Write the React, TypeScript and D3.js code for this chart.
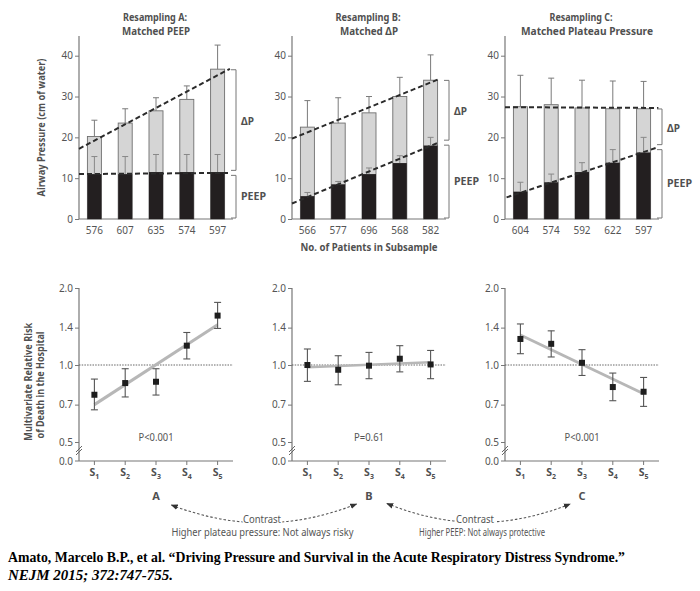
import React, { useRef, useEffect } from 'react';
import * as d3 from 'd3';

// ---- Top row: airway pressure (cm of water), 5 subsamples per resampling ----
const patientsA = ['576', '607', '635', '574', '597'];
const patientsB = ['566', '577', '696', '568', '582'];
const patientsC = ['604', '574', '592', '622', '597'];

const peepA = [11, 11, 11.5, 11.5, 11.5];
const peepErrA = [15.3, 15.3, 15.8, 15.8, 15.8];
const plateauA = [20.2, 23.5, 26.5, 29.3, 36.7];
const plateauErrA = [24.2, 27, 29.7, 32.6, 42.6];

const peepB = [5.6, 8.5, 11, 13.7, 18];
const peepErrB = [6.5, 9.2, 12.5, 15.5, 20];
const plateauB = [22.5, 23.5, 26, 30, 34];
const plateauErrB = [29, 29.7, 30, 34.7, 40.2];

const peepC = [6.7, 9, 11.5, 13.8, 16.3];
const peepErrC = [9, 11, 13.8, 17, 20];
const plateauC = [27.5, 28, 27.2, 27, 27];
const plateauErrC = [35.2, 34.5, 34, 33.8, 33.7];

// dashed trends: [subsample index, value] at both ends
const plateauTrendA = [[-0.5, 17.2], [4.4, 36.8]];
const peepTrendA = [[-0.5, 11.0], [4.4, 11.3]];
const plateauTrendB = [[-0.5, 19.7], [4.25, 34.2]];
const peepTrendB = [[-0.5, 3.8], [4.25, 18.7]];
const plateauTrendC = [[-0.5, 27.4], [4.48, 27.2]];
const peepTrendC = [[-0.45, 5.3], [4.48, 17.6]];

const pressureTicks = [0, 10, 20, 30, 40];

// ---- Bottom row: multivariate relative risk of death ----
const subsamples = ['1', '2', '3', '4', '5'];
const riskA = [0.765, 0.85, 0.86, 1.19, 1.56];
const riskLoA = [0.668, 0.75, 0.763, 1.056, 1.39];
const riskHiA = [0.881, 0.967, 0.967, 1.34, 1.757];
const riskTrendA = [[0, 0.7], [4, 1.437]];

const riskB = [1.0, 0.958, 0.994, 1.058, 1.005];
const riskLoB = [0.863, 0.837, 0.884, 0.94, 0.884];
const riskHiB = [1.155, 1.087, 1.12, 1.19, 1.14];
const riskTrendB = [[0, 0.979], [4, 1.024]];

const riskC = [1.264, 1.21, 1.02, 0.82, 0.786];
const riskLoC = [1.107, 1.075, 0.91, 0.725, 0.689];
const riskHiC = [1.447, 1.36, 1.148, 0.93, 0.894];
const riskTrendC = [[0, 1.31], [4, 0.772]];

const riskTicks = [0.5, 0.7, 1.0, 1.4, 2.0];
const pValues = ['P<0.001', 'P=0.61', 'P<0.001'];

const SANS = "'Noto Sans', 'Open Sans', sans-serif";
const SERIF = "'Liberation Serif', 'Times New Roman', serif";
const INK = '#4a4a4a';

const App: React.FC = () => {
  const svgRef = useRef<SVGSVGElement>(null);

  useEffect(() => {
    if (!svgRef.current) return;
    const svg = d3.select(svgRef.current);
    svg.selectAll('*').remove();

    const defs = svg.append('defs');
    defs.append('marker')
      .attr('id', 'arrow').attr('viewBox', '0 0 8 8')
      .attr('refX', 7).attr('refY', 4)
      .attr('markerWidth', 7).attr('markerHeight', 7)
      .attr('markerUnits', 'userSpaceOnUse')
      .attr('orient', 'auto-start-reverse')
      .append('path').attr('d', 'M0,0.8 L8,4 L0,7.2 z').attr('fill', '#333');

    const txt = (g: any, x: number, y: number, s: string, size: number, opts: any = {}) => {
      const t = g.append('text')
        .attr('x', x).attr('y', y)
        .attr('font-family', opts.family || SANS)
        .attr('font-size', size)
        .attr('font-weight', opts.weight || 'normal')
        .attr('font-style', opts.style || 'normal')
        .attr('fill', opts.fill || INK)
        .attr('text-anchor', opts.anchor || 'middle')
        .text(s);
      if (opts.len) t.attr('textLength', opts.len).attr('lengthAdjust', 'spacingAndGlyphs');
      if (opts.rotate) t.attr('transform', `rotate(-90,${x},${y})`);
      if (opts.halo) t.attr('stroke', '#fff').attr('stroke-width', 3).attr('paint-order', 'stroke');
      return t;
    };

    // ---------- top pressure panels ----------
    const yP = d3.scaleLinear().domain([0, 40]).range([219, 55.7]);
    const pressurePanels = [
      { ax: 79, labels: patientsA, peep: peepA, peepErr: peepErrA, plat: plateauA, platErr: plateauErrA,
        platTrend: plateauTrendA, peepTrend: peepTrendA, t1: 'Resampling A:', t2: 'Matched PEEP', l1: 64, l2: 68, t2dx: 0 },
      { ax: 292, labels: patientsB, peep: peepB, peepErr: peepErrB, plat: plateauB, platErr: plateauErrB,
        platTrend: plateauTrendB, peepTrend: peepTrendB, t1: 'Resampling B:', t2: 'Matched \u0394P', l1: 65, l2: 58, t2dx: 0 },
      { ax: 505, labels: patientsC, peep: peepC, peepErr: peepErrC, plat: plateauC, platErr: plateauErrC,
        platTrend: plateauTrendC, peepTrend: peepTrendC, t1: 'Resampling C:', t2: 'Matched Plateau Pressure', l1: 63, l2: 132, t2dx: 5 },
    ];

    pressurePanels.forEach((p) => {
      const g = svg.append('g');
      const x = d3.scaleBand<number>().domain(d3.range(p.labels.length)).range([p.ax, p.ax + 154]);
      const cx = (i: number) => (x(i) || 0) + x.bandwidth() / 2;
      const xi = d3.scaleLinear().domain([0, 4]).range([cx(0), cx(4)]);
      const y0 = yP(0);

      // titles
      txt(g, p.ax + 76, 20.5, p.t1, 10, { weight: 'bold', len: p.l1, fill: '#505050' });
      txt(g, p.ax + 77 + p.t2dx, 35, p.t2, 10, { weight: 'bold', len: p.l2, fill: '#505050' });

      // y axis
      const ya = g.append('g').attr('transform', `translate(${p.ax},0)`)
        .call(d3.axisLeft(yP).tickValues(pressureTicks).tickSize(4).tickSizeOuter(0).tickPadding(2));
      ya.select('.domain').remove();
      ya.selectAll('line').attr('stroke', '#777');
      ya.selectAll('text').attr('font-family', SANS).attr('font-size', 10).attr('fill', '#555');
      g.append('line').attr('x1', p.ax).attr('x2', p.ax).attr('y1', y0).attr('y2', 36)
        .attr('stroke', '#777').attr('stroke-width', 1.2);
      // x axis
      g.append('line').attr('x1', p.ax).attr('x2', p.ax + 154).attr('y1', y0).attr('y2', y0)
        .attr('stroke', '#777').attr('stroke-width', 1.2);
      p.labels.forEach((l, i) => txt(g, cx(i), 233.5, l, 10, { fill: '#555' }));

      // bars
      g.selectAll('.plat').data(p.plat).enter().append('rect')
        .attr('x', (_, i) => cx(i) - 7).attr('width', 14)
        .attr('y', (d) => yP(d)).attr('height', (d) => y0 - yP(d))
        .attr('fill', '#d5d5d5').attr('stroke', '#6f6f6f').attr('stroke-width', 0.9);
      g.selectAll('.peep').data(p.peep).enter().append('rect')
        .attr('x', (_, i) => cx(i) - 7).attr('width', 14)
        .attr('y', (d) => yP(d)).attr('height', (d) => y0 - yP(d))
        .attr('fill', '#231f20');

      // error whiskers (upper only)
      const whisker = (from: number[], to: number[], color: string) => {
        from.forEach((v, i) => {
          g.append('line').attr('x1', cx(i)).attr('x2', cx(i)).attr('y1', yP(v)).attr('y2', yP(to[i]))
            .attr('stroke', color).attr('stroke-width', 1);
          g.append('line').attr('x1', cx(i) - 3).attr('x2', cx(i) + 3).attr('y1', yP(to[i])).attr('y2', yP(to[i]))
            .attr('stroke', color).attr('stroke-width', 1);
        });
      };
      whisker(p.plat, p.platErr, '#7a7a7a');
      whisker(p.peep, p.peepErr, '#888');

      // dashed trends
      [p.platTrend, p.peepTrend].forEach((t) => {
        g.append('line')
          .attr('x1', xi(t[0][0])).attr('y1', yP(t[0][1]))
          .attr('x2', xi(t[1][0])).attr('y2', yP(t[1][1]))
          .attr('stroke', '#2b2b2b').attr('stroke-width', 2).attr('stroke-dasharray', '5,3');
      });

      // brackets
      const bx = p.ax + 157;
      const topY = yP(p.platTrend[1][1]);
      const midY = yP(p.peepTrend[1][1]);
      const bracket = (a: number, b: number) => {
        g.append('path').attr('d', `M${bx - 5},${a} H${bx} V${b} H${bx - 5}`)
          .attr('fill', 'none').attr('stroke', '#777').attr('stroke-width', 1);
      };
      bracket(topY + 1, midY - 2.5);
      bracket(midY + 2.5, y0 - 1);
      txt(g, bx + 5, (topY + midY) / 2 + 4, '\u0394P', 10, { weight: 'bold', anchor: 'start', fill: '#505050' });
      txt(g, bx + 5, (midY + y0) / 2 + 4, 'PEEP', 10, { weight: 'bold', anchor: 'start', fill: '#505050', len: 25 });
    });

    txt(svg, 45, 127.5, 'Airway Pressure (cm of water)', 10, { weight: 'bold', rotate: true, len: 138, fill: '#505050' });
    txt(svg, 369, 251, 'No. of Patients in Subsample', 10, { weight: 'bold', len: 137, fill: '#505050' });

    // ---------- bottom risk panels ----------
    const yR = d3.scaleLog().domain([0.5, 2]).range([442, 288]);
    const zeroY = 461;
    const riskPanels = [
      { ax: 79, v: riskA, lo: riskLoA, hi: riskHiA, trend: riskTrendA, trendW: 3, letter: 'A' },
      { ax: 292, v: riskB, lo: riskLoB, hi: riskHiB, trend: riskTrendB, trendW: 2.5, letter: 'B' },
      { ax: 505, v: riskC, lo: riskLoC, hi: riskHiC, trend: riskTrendC, trendW: 3, letter: 'C' },
    ];

    riskPanels.forEach((p, pi) => {
      const g = svg.append('g');
      const x = d3.scaleBand<number>().domain(d3.range(subsamples.length)).range([p.ax, p.ax + 154]);
      const cx = (i: number) => (x(i) || 0) + x.bandwidth() / 2;
      const xi = d3.scaleLinear().domain([0, 4]).range([cx(0), cx(4)]);

      // y axis with break
      const ya = g.append('g').attr('transform', `translate(${p.ax},0)`)
        .call(d3.axisLeft(yR).tickValues(riskTicks).tickFormat(d3.format('.1f')).tickSize(4).tickSizeOuter(0).tickPadding(2));
      ya.select('.domain').remove();
      ya.selectAll('line').attr('stroke', '#777');
      ya.selectAll('text').attr('font-family', SANS).attr('font-size', 10).attr('fill', '#555');
      g.append('line').attr('x1', p.ax - 4).attr('x2', p.ax).attr('y1', zeroY).attr('y2', zeroY).attr('stroke', '#777');
      txt(g, p.ax - 6, zeroY + 3.5, '0.0', 10, { anchor: 'end', fill: '#555' });
      g.append('line').attr('x1', p.ax).attr('x2', p.ax).attr('y1', yR(2)).attr('y2', zeroY)
        .attr('stroke', '#777').attr('stroke-width', 1.2);
      [0, 3].forEach((o) => {
        g.append('line').attr('x1', p.ax - 3).attr('y1', 452 + o).attr('x2', p.ax + 3).attr('y2', 446 + o)
          .attr('stroke', '#666').attr('stroke-width', 1);
      });

      // x axis
      g.append('line').attr('x1', p.ax).attr('x2', p.ax + 154).attr('y1', zeroY).attr('y2', zeroY)
        .attr('stroke', '#777').attr('stroke-width', 1.2);
      subsamples.forEach((s, i) => {
        g.append('line').attr('x1', cx(i)).attr('x2', cx(i)).attr('y1', zeroY).attr('y2', zeroY + 4).attr('stroke', '#777');
        const t = txt(g, cx(i), 476, 'S', 10.5, { weight: 'bold', fill: '#505050' });
        t.append('tspan').attr('font-size', 7).attr('dy', 2.5).text(s);
      });

      // reference line at 1.0
      g.append('line').attr('x1', p.ax).attr('x2', p.ax + 154).attr('y1', yR(1)).attr('y2', yR(1))
        .attr('stroke', '#555').attr('stroke-width', 0.9).attr('stroke-dasharray', '1.5,1.2');

      // trend
      g.append('line')
        .attr('x1', xi(p.trend[0][0])).attr('y1', yR(p.trend[0][1]))
        .attr('x2', xi(p.trend[1][0])).attr('y2', yR(p.trend[1][1]))
        .attr('stroke', '#b7b7b7').attr('stroke-width', p.trendW);

      // error bars + points
      p.v.forEach((v, i) => {
        const c = cx(i);
        g.append('line').attr('x1', c).attr('x2', c).attr('y1', yR(p.lo[i])).attr('y2', yR(p.hi[i]))
          .attr('stroke', '#555').attr('stroke-width', 1.1);
        [p.lo[i], p.hi[i]].forEach((e) => {
          g.append('line').attr('x1', c - 3.5).attr('x2', c + 3.5).attr('y1', yR(e)).attr('y2', yR(e))
            .attr('stroke', '#555').attr('stroke-width', 1.1);
        });
        g.append('rect').attr('x', c - 3).attr('y', yR(v) - 3).attr('width', 6).attr('height', 6).attr('fill', '#1e1e1e');
      });

      txt(g, p.ax + 77, 440.5, pValues[pi], 10, { fill: '#555', len: pi === 1 ? 30 : 35 });
      txt(g, p.ax + 77, 500, p.letter, 11, { weight: 'bold', fill: '#505050' });
    });

    txt(svg, 31.7, 381.7, 'Multivariate Relative Risk', 10, { weight: 'bold', rotate: true, len: 118, fill: '#505050' });
    txt(svg, 44.3, 385, 'of Death in the Hospital', 10, { weight: 'bold', rotate: true, len: 107, fill: '#505050' });

    // ---------- contrast arcs ----------
    const arcs = [
      { from: [171.5, 505], to: [356.5, 504], low: 541, label: 'Higher plateau pressure: Not always risky', cx: 262.5, len: 182 },
      { from: [387, 503.5], to: [570, 504], low: 541, label: 'Higher PEEP: Not always protective', cx: 482, len: 126 },
    ];
    arcs.forEach((a, i) => {
      const path = d3.path();
      path.moveTo(a.from[0], a.from[1]);
      path.quadraticCurveTo((a.from[0] + a.to[0]) / 2, a.low, a.to[0], a.to[1]);
      svg.append('path').attr('d', path.toString())
        .attr('fill', 'none').attr('stroke', '#555').attr('stroke-width', 1.1).attr('stroke-dasharray', '2.5,2')
        .attr('marker-start', 'url(#arrow)').attr('marker-end', 'url(#arrow)');
      txt(svg, i === 0 ? 262 : 475, 522.5, 'Contrast', 10, { fill: '#555', len: 38, halo: true });
      txt(svg, a.cx, 536, a.label, 10, { fill: '#555', len: a.len });
    });

    // ---------- citation ----------
    txt(svg, 8, 562, 'Amato, Marcelo B.P., et al. \u201CDriving Pressure and Survival in the Acute Respiratory Distress Syndrome.\u201D', 14.5,
      { family: SERIF, weight: 'bold', anchor: 'start', fill: '#000', len: 617 });
    txt(svg, 8, 580, 'NEJM 2015; 372:747-755.', 14.5,
      { family: SERIF, weight: 'bold', style: 'italic', anchor: 'start', fill: '#000', len: 165 });
  }, []);

  return (
    <svg ref={svgRef} width={700} height={591}
      style={{ position: 'absolute', left: 0, top: 0, background: '#fff' }} />
  );
};

export default App;
